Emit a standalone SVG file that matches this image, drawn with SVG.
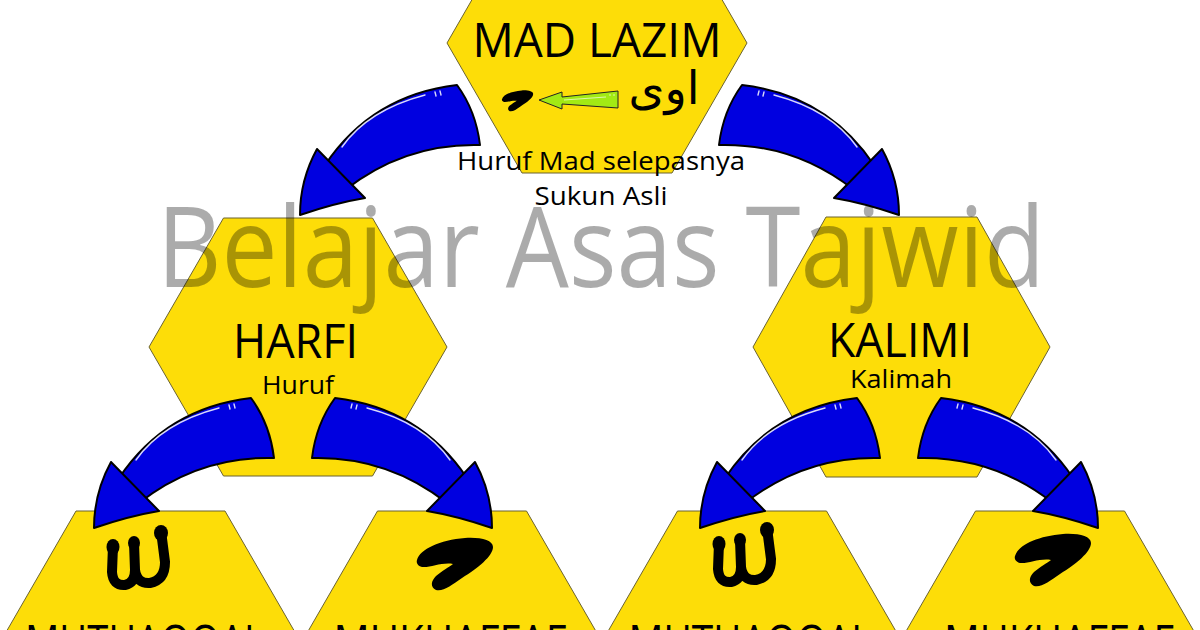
<svg xmlns="http://www.w3.org/2000/svg" xmlns:xlink="http://www.w3.org/1999/xlink" width="1200" height="630" viewBox="0 0 1200 630">
<style>
.hex{fill:#fddd08;stroke:#6b6330;stroke-width:1}
.lbl{font-family:"Open Sans","Liberation Sans",sans-serif;fill:#000;text-anchor:middle}
.big{font-size:47px}
.small{font-size:26px}
.body{fill:#0000e0;stroke:#000;stroke-width:2;stroke-linejoin:round}
.hl{fill:none;stroke:#fff;stroke-width:1.4;stroke-linecap:round;opacity:0.85}
.mark{fill:#000}
.wm{font-family:"Open Sans","Liberation Sans",sans-serif;font-size:112px;fill:#000;fill-opacity:0.33}
</style>
<defs>
<g id="arrow">
<path class="body" d="M 457,85 C 468,100 477,120 480,145 Q 405,143 345,190 L 325,165 Q 372,95 457,85 Z"/>
<path class="body" d="M 317,149 L 365,198 Q 335,203 300,215 Q 300,180 317,149 Z"/>
<path class="hl" d="M 342,147 Q 368,110 425,95 M 435,92 l 1,4 M 440,91 l 1,4"/>
</g>
<path id="sukun" class="mark" d="M 417,560 C 420,549 440,540 465,538 C 480,537 493,540 493,547 C 493,556 478,568 462,578 C 452,585 443,592 436,590 C 430,587 431,581 436,576 C 442,571 449,567 453,564 C 442,562 430,568 422,567 C 418,566 416,563 417,560 Z"/>
<g id="shaddah">
<path d="M 113,546 L 112,572 Q 113,586 125,585 Q 135,583 135,570 L 134,543 M 135,570 Q 137,584 150,583 Q 165,580 165,562 L 161,531" fill="none" stroke="#000" stroke-width="10" stroke-linecap="round" stroke-linejoin="round"/>
<ellipse class="mark" cx="113" cy="547" rx="6.5" ry="8"/>
<ellipse class="mark" cx="134" cy="543" rx="6" ry="7"/>
<ellipse class="mark" cx="161" cy="533" rx="7" ry="8"/>
</g>
</defs>

<g id="node-mad-lazim">
<polygon class="hex" points="447,43 522,-87 672,-87 747,43 672,173 522,173"/>
</g>
<g id="node-harfi">
<polygon class="hex" points="149,347 223.5,218 372.5,218 447,347 372.5,476 223.5,476"/>
</g>
<g id="node-kalimi">
<polygon class="hex" points="753,347 826,217 977,217 1050,347 977,477 826,477"/>
</g>
<g id="node-muthaqqal-harfi">
<polygon class="hex" points="76,511 225,511 299.5,640 225,769 76,769 1.5,640"/>
</g>
<g id="node-mukhaffaf-harfi">
<polygon class="hex" points="377.5,511 526.5,511 601,640 526.5,769 377.5,769 303,640"/>
</g>
<g id="node-muthaqqal-kalimi">
<polygon class="hex" points="677.5,511 826.5,511 901,640 826.5,769 677.5,769 603,640"/>
</g>
<g id="node-mukhaffaf-kalimi">
<polygon class="hex" points="975.5,511 1124.5,511 1199,640 1124.5,769 975.5,769 901,640"/>
</g>

<g id="connectors">
<use href="#arrow"/>
<use href="#arrow" transform="translate(1199,0) scale(-1,1)"/>
<use href="#arrow" transform="translate(-206,313)"/>
<use href="#arrow" transform="translate(792,313) scale(-1,1)"/>
<use href="#arrow" transform="translate(400,313)"/>
<use href="#arrow" transform="translate(1398,313) scale(-1,1)"/>
</g>

<g id="labels-mad-lazim">
<text class="lbl big" x="597" y="57" textLength="249" lengthAdjust="spacingAndGlyphs">MAD LAZIM</text>
<use href="#sukun" transform="translate(502,90) scale(0.41,0.4) translate(-417,-537)"/>
<path d="M 539,100 L 562,92 L 562,97 L 618,91 L 618,108 L 562,104 L 562,109 Z" fill="#a2ea14" stroke="#222" stroke-width="1" stroke-linejoin="round"/>
<path d="M 564,100 L 606,97 M 609,95 l 2,0 M 613,95 l 2,0" fill="none" stroke="#fff" stroke-width="0.8" opacity="0.8"/>
<text x="664" y="104" font-family="'DejaVu Sans',sans-serif" font-size="46" text-anchor="middle" direction="rtl">اوى</text>
<text class="lbl small" x="601" y="170" textLength="288" lengthAdjust="spacingAndGlyphs">Huruf Mad selepasnya</text>
<text class="lbl small" x="601" y="205" textLength="133" lengthAdjust="spacingAndGlyphs">Sukun Asli</text>
</g>
<g id="labels-harfi">
<text class="lbl big" x="295.5" y="358" textLength="125" lengthAdjust="spacingAndGlyphs">HARFI</text>
<text class="lbl small" x="298" y="394" textLength="72" lengthAdjust="spacingAndGlyphs">Huruf</text>
</g>
<g id="labels-kalimi">
<text class="lbl big" x="900" y="357" textLength="144" lengthAdjust="spacingAndGlyphs">KALIMI</text>
<text class="lbl small" x="901" y="388" textLength="102" lengthAdjust="spacingAndGlyphs">Kalimah</text>
</g>
<g id="labels-bottom">
<use href="#shaddah"/>
<use href="#sukun"/>
<use href="#shaddah" transform="translate(606,-3)"/>
<use href="#sukun" transform="translate(598,-4)"/>
<text class="lbl big" x="144.5" y="659" textLength="239" lengthAdjust="spacingAndGlyphs">MUTHAQQAL</text>
<text class="lbl big" x="450" y="659" textLength="233" lengthAdjust="spacingAndGlyphs">MUKHAFFAF</text>
<text class="lbl big" x="750" y="659" textLength="243" lengthAdjust="spacingAndGlyphs">MUTHAQQAL</text>
<text class="lbl big" x="1059" y="659" textLength="230" lengthAdjust="spacingAndGlyphs">MUKHAFFAF</text>
</g>

<text class="wm" x="157" y="287" textLength="888" lengthAdjust="spacingAndGlyphs">Belajar Asas Tajwid</text>
</svg>
